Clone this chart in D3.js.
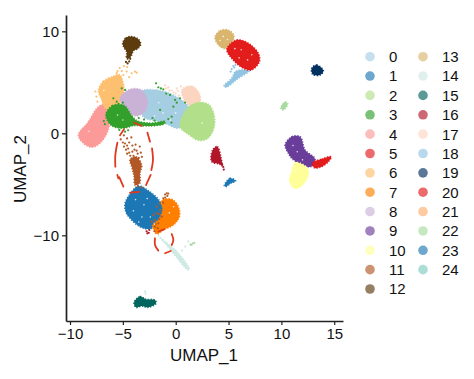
<!DOCTYPE html>
<html>
<head>
<meta charset="utf-8">
<script src="https://cdn.jsdelivr.net/npm/d3@7"></script>
<style>
  body { margin: 0; background: #fff; }
  text { font-family: "Liberation Sans", Arial, sans-serif; fill: #111; }
</style>
</head>
<body>
<svg id="chart" width="474" height="379"></svg>
<script>
// legend
const clusterIds = ["0","1","2","3","4","5","6","7","8","9","10","11","12","13","14","15","16","17","18","19","20","21","22","23","24"];
const clusterColors = ["#a6cee3","#1f78b4","#b2df8a","#33a02c","#fb9a99","#e31a1c","#fdbf6f","#ff7f00","#cab2d6","#6a3d9a","#ffff99","#b15928","#5c3a0f","#d9b56e","#cfe9e4","#01665e","#b2182b","#fcd5c0","#92c5e3","#053061","#e31a1c","#fdae6b","#a8dba0","#1f78b4","#80cdc1"];
const xTicks = [-10, -5, 0, 5, 10, 15];
const yTicks = [-10, 0, 10];

// cluster outlines in UMAP units
const outline0 = [[-3.38,4.08],[-1.8,4.25],[-0.22,3.76],[1.2,2.61],[1.3,1.63],[0.25,0.5],[-0.85,0.9],[-1.8,1.2],[-3.06,1.6],[-3.5,2.94]];
const outline1 = [[-4.79,-6.86],[-4.32,-5.95],[-3.53,-5.16],[-2.59,-5.62],[-1.55,-6.6],[-1.17,-7.68],[-1.64,-8.5],[-2.37,-9.35],[-3.38,-9.15],[-4.32,-8.33],[-4.73,-7.68]];
const outline2 = [[0.41,0.65],[1.1,2.45],[1.99,3.0],[3.09,2.85],[3.6,1.96],[3.65,0.65],[3.09,-0.45],[2.15,-0.7],[1.2,-0.1]];
const outline3 = [[-6.62,1.8],[-6.0,2.71],[-4.9,2.75],[-4.2,1.8],[-3.69,1.25],[-2.43,1.0],[-1.0,1.15],[-1.1,0.92],[-2.43,0.72],[-4.0,0.75],[-4.95,0.5],[-6.06,0.75]];
const outline4 = [[-9.21,-0.16],[-8.26,1.14],[-7.32,2.61],[-6.5,2.9],[-6.2,1.5],[-6.45,0.16],[-7.16,-0.98],[-7.95,-1.37],[-8.74,-0.98]];
const outline5 = [[4.83,8.24],[5.77,9.15],[6.88,8.82],[7.82,7.84],[7.92,7.03],[7.19,6.21],[6.4,6.37],[5.3,7.35]];
const outline6 = [[-7.32,4.25],[-6.85,5.1],[-5.9,5.6],[-5.3,5.75],[-5.0,5.07],[-4.9,4.25],[-5.3,3.0],[-5.9,2.2],[-6.69,2.5],[-7.0,3.27],[-7.22,3.76]];
const outline7 = [[-1.32,-6.6],[-0.38,-6.47],[0.25,-7.19],[0.35,-8.17],[-0.22,-8.99],[-1.17,-9.48],[-1.8,-9.87],[-2.18,-8.99],[-1.64,-8.5],[-1.23,-7.52]];
const outline8 = [[-5.27,3.43],[-4.48,4.25],[-3.38,4.31],[-2.7,3.27],[-2.9,2.2],[-3.85,1.7],[-4.79,2.45]];
const outline9 = [[10.35,-1.14],[10.98,-0.33],[11.77,-0.33],[12.24,-1.63],[13.18,-2.52],[12.78,-3.27],[11.77,-3.01],[10.98,-2.45],[10.66,-1.96]];
const outline10 = [[11.29,-2.88],[12.24,-3.2],[12.59,-3.92],[11.92,-5.16],[11.2,-5.39],[10.76,-4.58],[10.98,-3.76]];
const outline11 = [[-4.32,-2.61],[-3.75,-2.29],[-3.22,-3.1],[-3.38,-3.92],[-3.4,-4.9],[-3.85,-5.07],[-3.94,-4.25],[-4.0,-3.92],[-4.16,-3.27]];
const outline12 = [[-5.02,8.82],[-4.73,9.35],[-4.16,9.48],[-3.53,9.22],[-3.31,8.73],[-3.63,8.27],[-4.0,8.1],[-4.2,7.6],[-4.48,7.3],[-4.65,7.35],[-4.64,8.0],[-4.89,8.4]];
const outline13 = [[3.72,9.41],[4.2,10.07],[4.98,10.13],[5.52,9.54],[5.3,8.89],[4.67,8.3],[4.04,8.66]];
const outline14 = [[-1.61,-10.07],[-0.85,-10.72],[0.09,-11.54],[1.29,-13.3],[1.14,-13.4],[-0.06,-11.99],[-0.85,-11.0]];
const outline15 = [[-3.94,-16.6],[-3.38,-16.01],[-2.81,-16.27],[-1.96,-16.34],[-1.86,-16.67],[-2.59,-17.06],[-3.22,-16.93],[-3.75,-17.06]];
const outline16 = [[3.5,-1.63],[3.94,-1.31],[4.3,-2.45],[4.4,-3.2],[4.13,-3.01],[3.41,-2.78]];
const outline17 = [[0.57,4.25],[1.51,4.64],[2.24,3.92],[2.3,3.0],[1.67,2.6],[0.98,3.0]];
const outline18 = [[4.57,4.64],[5.3,5.4],[5.7,6.1],[6.97,6.14],[5.93,5.39],[4.76,4.51]];
const outline19 = [[12.87,6.37],[13.34,6.7],[13.97,6.14],[13.66,5.72],[12.97,5.78]];
const outline20 = [[12.97,-2.88],[13.82,-2.52],[14.7,-2.29],[14.45,-2.78],[13.66,-3.33],[13.09,-3.37]];
const outline22 = [[9.94,2.45],[10.35,3.1],[10.6,2.88],[10.19,2.29]];
const outline23 = [[4.6,-5.13],[5.14,-4.41],[5.68,-4.67],[5.2,-4.9],[4.76,-5.23]];

// stray cells
const stray3 = [[-1.86,4.9],[-1.64,4.51],[-1.17,4.31],[-0.54,3.76],[-0.06,3.27],[0.41,3.43],[0.88,3.01],[-0.22,2.61],[-0.38,1.63],[-1.48,2.29],[-5.11,4.41],[-4.79,4.25],[-5.9,3.43],[-5.58,3.1],[-4.79,0.16],[-5.33,0.33],[-1.4,4.4],[-0.9,3.9],[0.1,3.0],[-2.2,1.5],[-0.7,1.4],[-0.4,1.05],[-5.0,3.0],[-5.4,2.9],[-6.8,1.2],[-6.7,0.9],[-4.5,0.3],[-3.5,1.5],[-3.0,1.35],[-2.0,1.25]];
const stray6 = [[-3.85,6.05],[-4.16,5.88],[-4.64,6.05],[-4.95,5.72],[-5.58,5.9],[-4.4,5.5],[-3.7,5.95],[-7.5,3.6],[-7.6,4.1],[-4.6,6.5],[-5.1,6.1],[-5.3,6.4],[-4.9,6.6],[-5.5,6.1],[-7.4,3.1]];
const stray11 = [[-5.0,-0.9],[-4.8,-1.0],[-4.9,-1.3],[-4.6,-1.2],[-4.7,-1.6],[-4.5,-1.5],[-4.4,-1.9],[-4.6,-2.0],[-4.3,-2.2],[-4.1,-1.8],[-4.2,-2.5],[-3.9,-1.6],[-3.7,-1.7],[-3.6,-2.0],[-3.4,-1.3],[-3.3,-1.9],[-3.2,-2.3],[-3.5,-2.4],[-4.0,-2.2],[-4.4,-0.9],[-4.2,-0.4],[-4.6,-0.5],[-4.9,-0.2],[-5.2,-0.6],[-3.8,-1.1],[-4.1,-1.2],[-0.85,-5.88],[-0.79,-6.14],[-1.17,-6.37],[-1.48,-6.86],[-1.8,-7.84],[-1.96,-8.5],[-1.64,-8.82],[-1.96,-9.15],[-1.32,-8.17],[-2.27,-8.66],[-1.48,-7.52],[-1.8,-7.19],[-1.01,-6.0],[-1.2,-6.8],[-2.0,-9.6],[-1.7,-9.3],[-2.1,-8.0],[-3.6,-5.2],[-3.2,-5.3],[-1.0,-6.3],[-0.7,-5.9],[-1.55,-8.4],[-1.9,-8.9],[-1.6,-7.9]];
const stray12 = [[-4.7,7.0],[-4.4,7.05],[-4.55,6.85],[-4.3,7.3]];
const stray16 = [[-2.68,-9.8],[-2.49,-9.48],[-2.75,-9.6],[-2.55,-9.75],[4.5,-3.3],[4.55,-3.55],[4.4,-3.1]];
const stray17 = [[-1.0,4.7],[-0.7,4.5],[-0.4,4.2],[0,3.9],[0.3,3.7],[-0.9,4.4],[-0.2,4.0],[0.5,4.6],[0.1,4.4],[-0.6,4.2],[0.2,4.15]];
const stray18 = [[5.45,6.6],[5.3,6.3],[5.55,6.45],[5.65,6.7],[5.2,6.05]];
const stray14 = [[-2.9,-15.5],[-2.85,-15.7],[1.2,-10.6],[0.9,-11.1],[0.6,-11.5]];
const stray22 = [[1.4,-10.9],[1.6,-10.8],[1.75,-10.75],[1.5,-10.95]];
// small gaps showing the white page through the clouds
const gaps = [[-3.5,-8.7],[-3.0,-7.0],[-2.4,-8.2],[-3.8,-6.5],[-2,-8.9],[-3.2,-8.2],[-4.0,-7.6],[-2.7,-6.4],[6.2,8.2],[6.8,7.2],[5.6,8.3],[6.0,7.4],[7.2,7.7],[4.5,9.5],[4.9,9.2],[4.2,9.1],[11.5,-1.8],[12,-2.6],[11.1,-1.2],[-1.2,2.0],[-2,1.7],[-0.5,1.3],[0,2],[-1.6,3.0],[-0.6,-7.8],[-0.2,-7.2],[2.5,1],[11.3,-3.7],[-6.8,4.2],[-8.2,0.2],[-5.5,1.8],[-5.0,1.3]];
// red dashes drawn by hand over the figure
const ringDashes = [
  [[-3.94,1.05],[-3.22,0.72]],
  [[-4.89,0.39],[-5.27,-0.2]],
  [[-5.52,-0.92],[-5.71,-2.12],[-5.71,-3.27]],
  [[-5.52,-4.08],[-5.43,-4.41]],
  [[-5.33,-4.31],[-4.95,-5.23]],
  [[-4.32,-5.82],[-3.44,-5.75]],
  [[-2.37,-4.08],[-2.81,-5.07]],
  [[-2.68,0.07],[-2.43,-0.82]],
  [[-2.24,-1.47],[-2.15,-2.61],[-2.3,-3.6]],
  [[-1.96,-10.29],[-1.96,-10.95],[-1.64,-11.5]],
  [[-1.64,-9.64],[-1.1,-9.41]],
  [[-0.38,-9.87],[-0.22,-10.46],[-0.38,-10.95]],
  [[-1.01,-11.76],[-0.47,-11.54]]
];

const svg = d3.select("#chart");
const x = d3.scaleLinear().domain([-10.38, 15.83]).range([66, 343]);
const y = d3.scaleLinear().domain([-18.4, 11.6]).range([321, 15]);

svg.append("defs").append("filter").attr("id", "soft")
  .append("feGaussianBlur").attr("stdDeviation", 0.55);

const blobLine = d3.line()
  .x(d => x(d[0]))
  .y(d => y(d[1]))
  .curve(d3.curveCatmullRomClosed.alpha(0.5));

// draw order is back to front
const blobs = [
  [outline4, 4], [outline6, 6], [outline17, 17], [outline0, 0], [outline8, 8], [outline2, 2],
  [outline3, 3], [outline11, 11], [outline12, 12], [outline1, 1], [outline7, 7], [outline14, 14],
  [outline15, 15], [outline13, 13], [outline18, 18], [outline5, 5], [outline19, 19], [outline22, 22],
  [outline9, 9], [outline10, 10], [outline20, 20], [outline16, 16], [outline23, 23]
];

const marks = svg.append("g").attr("filter", "url(#soft)");

marks.selectAll(".blob")
  .data(blobs)
  .join("path")
  .attr("class", "blob")
  .attr("d", d => blobLine(d[0]))
  .attr("fill", d => clusterColors[d[1]])
  .attr("stroke", d => clusterColors[d[1]])
  .attr("stroke-width", 1.6)
  .attr("stroke-dasharray", "1.2 1.6");

const strays = [[stray17, 17], [stray6, 6], [stray18, 18], [stray3, 3], [stray11, 11], [stray12, 12], [stray16, 16], [stray14, 14], [stray22, 22]];
strays.forEach(([pts, id]) => {
  marks.append("g").selectAll("circle")
    .data(pts)
    .join("circle")
    .attr("cx", d => x(d[0]))
    .attr("cy", d => y(d[1]))
    .attr("r", 1.1)
    .attr("fill", clusterColors[id]);
});

marks.append("g").selectAll("circle")
  .data(gaps)
  .join("circle")
  .attr("cx", d => x(d[0]))
  .attr("cy", d => y(d[1]))
  .attr("r", 0.8)
  .attr("fill", "#fff")
  .attr("opacity", 0.8);

const dashLine = d3.line()
  .x(d => x(d[0]))
  .y(d => y(d[1]))
  .curve(d3.curveNatural);

svg.append("g").selectAll("path")
  .data(ringDashes)
  .join("path")
  .attr("d", dashLine)
  .attr("fill", "none")
  .attr("stroke", "#e0391f")
  .attr("stroke-width", 1.8)
  .attr("stroke-linecap", "round");

// axes
const xAxis = svg.append("g")
  .attr("transform", "translate(0,321)")
  .call(d3.axisBottom(x).tickValues(xTicks).tickFormat(d3.format("d")).tickSize(4).tickPadding(3).tickSizeOuter(0));
const yAxis = svg.append("g")
  .attr("transform", "translate(66,0)")
  .call(d3.axisLeft(y).tickValues(yTicks).tickFormat(d3.format("d")).tickSize(4).tickPadding(3).tickSizeOuter(0));

[xAxis, yAxis].forEach(ax => {
  ax.selectAll(".domain").attr("stroke", "#222").attr("stroke-width", 1.7);
  ax.selectAll(".tick line").attr("stroke", "#222").attr("stroke-width", 1.2);
  ax.selectAll("text").style("font-size", "15px").style("font-family", "'Liberation Sans', Arial, sans-serif").attr("fill", "#111");
});

svg.append("text")
  .attr("x", 204).attr("y", 361)
  .attr("text-anchor", "middle")
  .style("font-size", "17px")
  .text("UMAP_1");
svg.append("text")
  .attr("transform", "translate(26,169) rotate(-90)")
  .attr("text-anchor", "middle")
  .style("font-size", "17px")
  .text("UMAP_2");

// legend, two columns of 13 and 12
const legendY = d3.scalePoint().domain(d3.range(13)).range([56.7, 289]);
const legend = svg.append("g").selectAll("g")
  .data(clusterIds)
  .join("g")
  .attr("transform", (d, i) => "translate(" + (i < 13 ? 370 : 423) + "," + legendY(i % 13) + ")");
legend.append("circle")
  .attr("r", 4.8)
  .attr("fill", (d, i) => clusterColors[i])
  .attr("opacity", 0.65);
legend.append("text")
  .attr("x", 19)
  .attr("dy", "0.36em")
  .style("font-size", "15px")
  .text(d => d);
</script>
</body>
</html>
